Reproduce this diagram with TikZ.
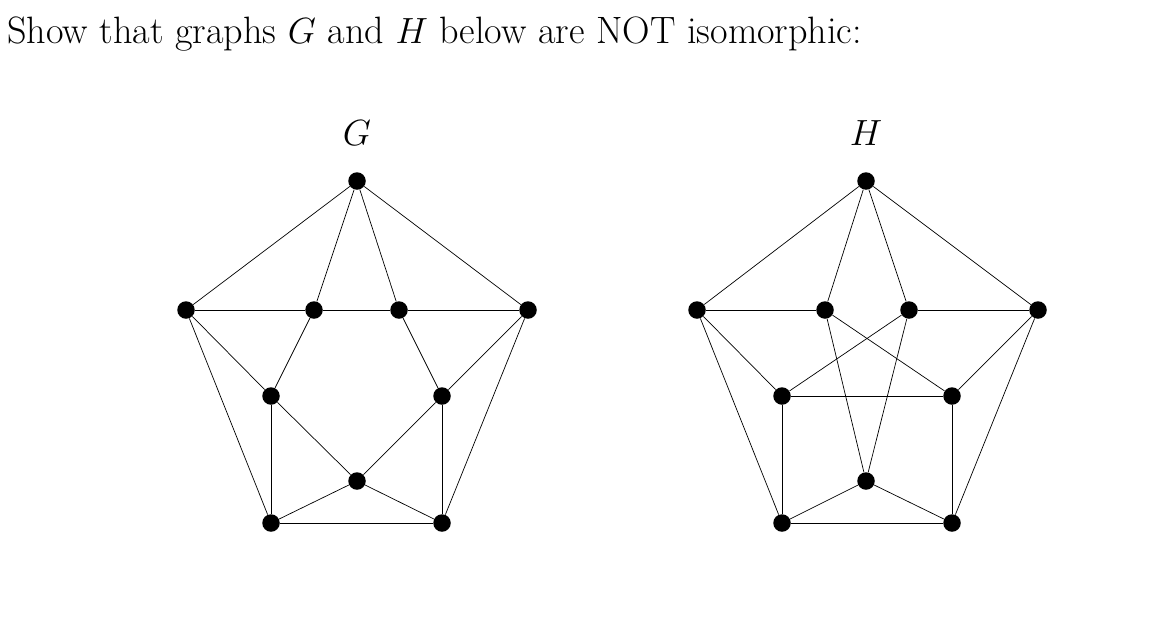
\documentclass[tikz,border=0pt]{standalone}
\begin{document}
\begin{tikzpicture}[x=0.02cm,y=-0.02cm,
  v/.style={circle,fill=black,inner sep=0pt,minimum size=0.35cm},
  e/.style={line width=0.4pt}]
\useasboundingbox (0,0) rectangle (1162,616);
\node[anchor=west,font=\fontsize{21.7}{24}\selectfont,inner sep=0pt] (title) at (7,34) {Show that graphs $G$ and $H$ below are NOT isomorphic:};
\node[font=\fontsize{21}{24}\selectfont] (gl) at (357,133) {$G$};
\node[font=\fontsize{21}{24}\selectfont] (hl) at (866,133) {$H$};
% G
\node[v] (gT) at (357,181) {};
\node[v] (gL) at (186,310) {};
\node[v] (gR) at (528,310) {};
\node[v] (gIL) at (314,310) {};
\node[v] (gIR) at (399,310) {};
\node[v] (gML) at (271,396) {};
\node[v] (gMR) at (442,396) {};
\node[v] (gC) at (357,481) {};
\node[v] (gBL) at (271,523) {};
\node[v] (gBR) at (442,523) {};
\foreach \a/\b in {gT/gL,gT/gR,gT/gIL,gT/gIR,gL/gIL,gIL/gIR,gIR/gR,gL/gML,gL/gBL,gIL/gML,gIR/gMR,gR/gMR,gR/gBR,gML/gBL,gML/gC,gMR/gC,gMR/gBR,gC/gBL,gC/gBR,gBL/gBR}
  \draw[e] (\a) -- (\b);
% H
\node[v] (hT) at (866,181) {};
\node[v] (hL) at (697,310) {};
\node[v] (hR) at (1038,310) {};
\node[v] (hIL) at (825,310) {};
\node[v] (hIR) at (909,310) {};
\node[v] (hML) at (782,396) {};
\node[v] (hMR) at (952,396) {};
\node[v] (hC) at (866,481) {};
\node[v] (hBL) at (782,523) {};
\node[v] (hBR) at (952,523) {};
\foreach \a/\b in {hT/hL,hT/hR,hT/hIL,hT/hIR,hL/hIL,hIR/hR,hL/hML,hL/hBL,hIL/hMR,hIR/hML,hIL/hC,hIR/hC,hML/hMR,hML/hBL,hMR/hBR,hR/hMR,hR/hBR,hC/hBL,hC/hBR,hBL/hBR}
  \draw[e] (\a) -- (\b);
\end{tikzpicture}
\end{document}
